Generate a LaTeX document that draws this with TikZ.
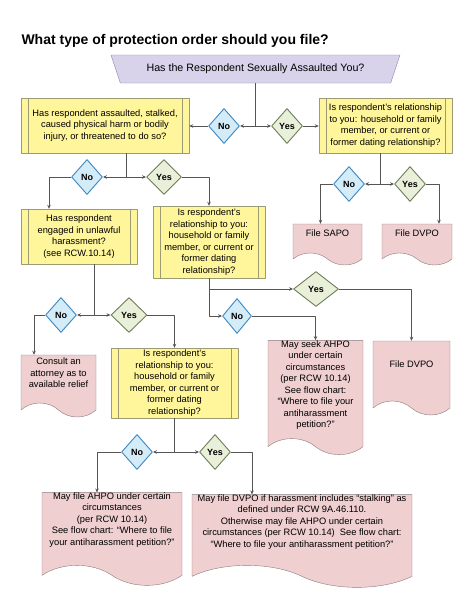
\documentclass[tikz,border=0pt]{standalone}
\usepackage{fontspec}
\setmainfont{Liberation Sans}
\usetikzlibrary{shapes.geometric,shapes.symbols,arrows.meta}
\definecolor{qfill}{HTML}{FFF69C}
\definecolor{qedge}{HTML}{9C9C74}
\definecolor{dfill}{HTML}{EFCFD0}
\definecolor{dedge}{HTML}{8C7C7C}
\definecolor{pfill}{HTML}{D8D2EA}
\definecolor{pedge}{HTML}{8A84A6}
\definecolor{nofill}{HTML}{D4ECF8}
\definecolor{noedge}{HTML}{3A88C2}
\definecolor{yesfill}{HTML}{E9F0DA}
\definecolor{yesedge}{HTML}{6E7D58}
\definecolor{wirec}{HTML}{555555}
\begin{document}
\begin{tikzpicture}[>={Stealth[length=4pt,width=3.5pt]},line join=round,x=1pt,y=-1pt,
	font=\fontsize{9.3}{11.5}\selectfont,
	qbox/.style={rectangle,draw=qedge,fill=qfill,align=center,inner sep=0pt,
		path picture={\draw[qedge] ([xshift=7pt]path picture bounding box.north west)--([xshift=7pt]path picture bounding box.south west)
			([xshift=-7pt]path picture bounding box.north east)--([xshift=-7pt]path picture bounding box.south east);}},
	docbox/.style={tape,tape bend top=none,tape bend bottom=out and in,draw=dedge,fill=dfill,align=center,inner sep=0pt},
	nobox/.style={diamond,draw=noedge,fill=nofill,line width=0.9pt,inner sep=0pt,minimum width=31pt,minimum height=35pt,font=\fontsize{9}{9}\selectfont\bfseries},
	yesbox/.style={nobox,draw=yesedge,fill=yesfill},
	wire/.style={draw=wirec,line width=0.7pt}]
	\def\docpad#1{\\[#1]\mbox{}}
	\useasboundingbox (0,0) rectangle (474,613);
	\node[anchor=base west,font=\fontsize{14}{16}\selectfont\bfseries] (title) at (18,44) {What type of protection order should you file?};
	\node[trapezium,trapezium stretches=true,shape border rotate=180,trapezium left angle=65,trapezium right angle=65,
		minimum width=290pt,minimum height=28pt,draw=pedge,fill=pfill,font=\fontsize{10.7}{12}\selectfont] (sexq) at (255.5,69) {Has the Respondent Sexually Assaulted You?};
	% questions
	\node[qbox,minimum width=168pt,minimum height=55pt] (harmq) at (105,125.5) {Has respondent assaulted, stalked,\\caused physical harm or bodily\\injury, or threatened to do so?};
	\node[qbox,minimum width=133pt,minimum height=55pt] (relq1) at (385.5,125.5) {Is respondent's relationship\\to you: household or family\\member, or current or\\former dating relationship?};
	\node[qbox,minimum width=116pt,minimum height=55pt] (unlq) at (79,236.5) {Has respondent\\engaged in unlawful\\harassment?\\(see RCW.10.14)};
	\node[qbox,minimum width=112pt,minimum height=72pt] (relq2) at (209,242) {Is respondent's\\relationship to you:\\household or family\\member, or current or\\former dating\\relationship?};
	\node[qbox,minimum width=127pt,minimum height=70pt] (relq3) at (174.5,383) {Is respondent's\\relationship to you:\\household or family\\member, or current or\\former dating\\relationship?};
	% outcomes
	\node[docbox,minimum width=69pt,minimum height=41pt,tape bend height=12pt] (sapo) at (327.5,238.5) {File SAPO\docpad{-0.5pt}};
	\node[docbox,minimum width=70pt,minimum height=41pt,tape bend height=12pt] (dvpo1) at (417,238.5) {File DVPO\docpad{-0.5pt}};
	\node[docbox,minimum width=75pt,minimum height=62pt,tape bend height=14pt] (consult) at (58.5,379) {Consult an\\attorney as to\\available relief\docpad{0.5pt}};
	\node[docbox,minimum width=95pt,minimum height=111pt,tape bend height=16pt] (ahpo1) at (315.5,389.5) {May seek AHPO\\under certain\\circumstances\\(per RCW 10.14)\\See flow chart:\\“Where to file your\\antiharassment\\petition?”\docpad{-0.5pt}};
	\node[docbox,minimum width=77pt,minimum height=74pt,tape bend height=14pt] (dvpo2) at (411.5,371) {File DVPO\docpad{2.5pt}};
	\node[docbox,minimum width=140pt,minimum height=82pt,tape bend height=20pt] (ahpo2) at (112,529) {May file AHPO under certain\\circumstances\\(per RCW 10.14)\\See flow chart: “Where to file\\your antiharassment petition?”\docpad{8.5pt}};
	\node[docbox,minimum width=220pt,minimum height=86pt,tape bend height=22pt] (dvpo3) at (302,530) {May file DVPO if harassment includes “stalking” as\\defined under RCW 9A.46.110.\\Otherwise may file AHPO under certain\\circumstances (per RCW 10.14)~~See flow chart:\\“Where to file your antiharassment petition?”\docpad{6.5pt}};
	% answers
	\node[nobox] (no1) at (224,126) {No};
	\node[yesbox] (yes1) at (287,126) {Yes};
	\node[nobox] (no2) at (87,177) {No};
	\node[yesbox,minimum width=35pt] (yes2) at (164,177) {Yes};
	\node[nobox] (no3) at (349,184) {No};
	\node[yesbox] (yes3) at (410,184) {Yes};
	\node[nobox] (no4) at (61,315) {No};
	\node[yesbox,minimum width=36pt] (yes4) at (129,315) {Yes};
	\node[yesbox,minimum width=45pt] (yes5) at (316,289) {Yes};
	\node[nobox,minimum width=29pt] (no5) at (237,316) {No};
	\node[nobox] (no6) at (137,452) {No};
	\node[yesbox] (yes6) at (215,452) {Yes};
	\coordinate (j1) at (255,126);
	\coordinate (j2) at (126,177);
	\coordinate (j3) at (380,184);
	\coordinate (j4) at (94,315);
	\coordinate (j6) at (174,452);
	% connectors
	\draw[wire] (sexq.south -| j1) -- (j1);
	\draw[wire] (harmq.south -| j2) -- (j2);
	\draw[wire] (relq1.south -| j3) -- (j3);
	\draw[wire] (unlq.south -| j4) -- (j4);
	\draw[wire] (relq3.south -| j6) -- (j6);
	\foreach \j/\n/\y in {j1/no1/yes1,j2/no2/yes2,j3/no3/yes3,j4/no4/yes4,j6/no6/yes6}{
		\draw[wire,->] (\j) -- (\n.east);
		\draw[wire,->] (\j) -- (\y.west);
	}
	\draw[wire,->] (no1.west) -- (no1.west -| harmq.east);
	\draw[wire,->] (yes1.east) -- (yes1.east -| relq1.west);
	\draw[wire,->] (no2.west) -| ([xshift=-30pt]unlq.north);
	\draw[wire,->] (yes2.east) -| (relq2.north);
	\draw[wire,->] (no3.west) -| ([xshift=-7pt]sapo.north);
	\draw[wire,->] (yes3.east) -| ([xshift=22pt]dvpo1.north);
	\draw[wire,->] (no4.west) -| ([xshift=-24.5pt]consult.north);
	\draw[wire,->] (yes4.east) -| (relq3.north);
	\draw[wire,->] (relq2.south) |- (no5.west);
	\draw[wire,->] (relq2.south |- yes5.west) -- (yes5.west);
	\draw[wire,->] (no5.east) -| (ahpo1.north);
	\draw[wire,->] (yes5.east) -| (dvpo2.north);
	\draw[wire,->] (no6.west) -| ([xshift=-15pt]ahpo2.north);
	\draw[wire,->] (yes6.east) -| ([xshift=-50pt]dvpo3.north);
\end{tikzpicture}
\end{document}
